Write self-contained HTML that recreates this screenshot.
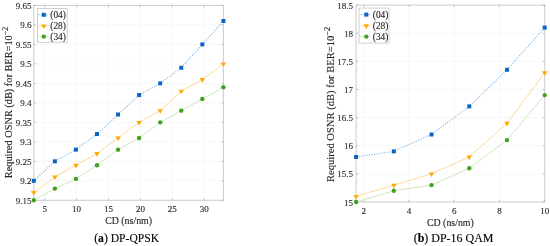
<!DOCTYPE html>
<html><head><meta charset="utf-8"><style>
html,body{margin:0;padding:0;background:#fff;width:550px;height:246px;overflow:hidden}
text{stroke:currentColor;stroke-width:0.12px;paint-order:stroke}
svg{display:block}
</style></head><body>
<svg width="550" height="246" viewBox="0 0 550 246" font-family='"Liberation Serif", "DejaVu Serif", serif' font-size="9" fill="#262626" color="#262626">
<rect width="550" height="246" fill="#fff"/>
<line x1="44.65" y1="5.4" x2="44.65" y2="200.3" stroke="#f7f7f7" stroke-width="1"/>
<line x1="76.57" y1="5.4" x2="76.57" y2="200.3" stroke="#f7f7f7" stroke-width="1"/>
<line x1="108.49" y1="5.4" x2="108.49" y2="200.3" stroke="#f7f7f7" stroke-width="1"/>
<line x1="140.41" y1="5.4" x2="140.41" y2="200.3" stroke="#f7f7f7" stroke-width="1"/>
<line x1="172.33" y1="5.4" x2="172.33" y2="200.3" stroke="#f7f7f7" stroke-width="1"/>
<line x1="204.25" y1="5.4" x2="204.25" y2="200.3" stroke="#f7f7f7" stroke-width="1"/>
<line x1="33.8" y1="180.81" x2="223.4" y2="180.81" stroke="#f7f7f7" stroke-width="1"/>
<line x1="33.8" y1="161.32" x2="223.4" y2="161.32" stroke="#f7f7f7" stroke-width="1"/>
<line x1="33.8" y1="141.83" x2="223.4" y2="141.83" stroke="#f7f7f7" stroke-width="1"/>
<line x1="33.8" y1="122.34" x2="223.4" y2="122.34" stroke="#f7f7f7" stroke-width="1"/>
<line x1="33.8" y1="102.85" x2="223.4" y2="102.85" stroke="#f7f7f7" stroke-width="1"/>
<line x1="33.8" y1="83.36" x2="223.4" y2="83.36" stroke="#f7f7f7" stroke-width="1"/>
<line x1="33.8" y1="63.87" x2="223.4" y2="63.87" stroke="#f7f7f7" stroke-width="1"/>
<line x1="33.8" y1="44.38" x2="223.4" y2="44.38" stroke="#f7f7f7" stroke-width="1"/>
<line x1="33.8" y1="24.89" x2="223.4" y2="24.89" stroke="#f7f7f7" stroke-width="1"/>
<rect x="33.8" y="5.4" width="189.60" height="194.90" fill="none" stroke="#cccccc" stroke-width="1"/>
<line x1="44.65" y1="200.3" x2="44.65" y2="198.5" stroke="#aaa" stroke-width="0.8"/>
<line x1="44.65" y1="5.4" x2="44.65" y2="7.2" stroke="#aaa" stroke-width="0.8"/>
<line x1="76.57" y1="200.3" x2="76.57" y2="198.5" stroke="#aaa" stroke-width="0.8"/>
<line x1="76.57" y1="5.4" x2="76.57" y2="7.2" stroke="#aaa" stroke-width="0.8"/>
<line x1="108.49" y1="200.3" x2="108.49" y2="198.5" stroke="#aaa" stroke-width="0.8"/>
<line x1="108.49" y1="5.4" x2="108.49" y2="7.2" stroke="#aaa" stroke-width="0.8"/>
<line x1="140.41" y1="200.3" x2="140.41" y2="198.5" stroke="#aaa" stroke-width="0.8"/>
<line x1="140.41" y1="5.4" x2="140.41" y2="7.2" stroke="#aaa" stroke-width="0.8"/>
<line x1="172.33" y1="200.3" x2="172.33" y2="198.5" stroke="#aaa" stroke-width="0.8"/>
<line x1="172.33" y1="5.4" x2="172.33" y2="7.2" stroke="#aaa" stroke-width="0.8"/>
<line x1="204.25" y1="200.3" x2="204.25" y2="198.5" stroke="#aaa" stroke-width="0.8"/>
<line x1="204.25" y1="5.4" x2="204.25" y2="7.2" stroke="#aaa" stroke-width="0.8"/>
<line x1="33.8" y1="200.30" x2="35.599999999999994" y2="200.30" stroke="#aaa" stroke-width="0.8"/>
<line x1="223.4" y1="200.30" x2="221.6" y2="200.30" stroke="#aaa" stroke-width="0.8"/>
<line x1="33.8" y1="180.81" x2="35.599999999999994" y2="180.81" stroke="#aaa" stroke-width="0.8"/>
<line x1="223.4" y1="180.81" x2="221.6" y2="180.81" stroke="#aaa" stroke-width="0.8"/>
<line x1="33.8" y1="161.32" x2="35.599999999999994" y2="161.32" stroke="#aaa" stroke-width="0.8"/>
<line x1="223.4" y1="161.32" x2="221.6" y2="161.32" stroke="#aaa" stroke-width="0.8"/>
<line x1="33.8" y1="141.83" x2="35.599999999999994" y2="141.83" stroke="#aaa" stroke-width="0.8"/>
<line x1="223.4" y1="141.83" x2="221.6" y2="141.83" stroke="#aaa" stroke-width="0.8"/>
<line x1="33.8" y1="122.34" x2="35.599999999999994" y2="122.34" stroke="#aaa" stroke-width="0.8"/>
<line x1="223.4" y1="122.34" x2="221.6" y2="122.34" stroke="#aaa" stroke-width="0.8"/>
<line x1="33.8" y1="102.85" x2="35.599999999999994" y2="102.85" stroke="#aaa" stroke-width="0.8"/>
<line x1="223.4" y1="102.85" x2="221.6" y2="102.85" stroke="#aaa" stroke-width="0.8"/>
<line x1="33.8" y1="83.36" x2="35.599999999999994" y2="83.36" stroke="#aaa" stroke-width="0.8"/>
<line x1="223.4" y1="83.36" x2="221.6" y2="83.36" stroke="#aaa" stroke-width="0.8"/>
<line x1="33.8" y1="63.87" x2="35.599999999999994" y2="63.87" stroke="#aaa" stroke-width="0.8"/>
<line x1="223.4" y1="63.87" x2="221.6" y2="63.87" stroke="#aaa" stroke-width="0.8"/>
<line x1="33.8" y1="44.38" x2="35.599999999999994" y2="44.38" stroke="#aaa" stroke-width="0.8"/>
<line x1="223.4" y1="44.38" x2="221.6" y2="44.38" stroke="#aaa" stroke-width="0.8"/>
<line x1="33.8" y1="24.89" x2="35.599999999999994" y2="24.89" stroke="#aaa" stroke-width="0.8"/>
<line x1="223.4" y1="24.89" x2="221.6" y2="24.89" stroke="#aaa" stroke-width="0.8"/>
<line x1="33.8" y1="5.40" x2="35.599999999999994" y2="5.40" stroke="#aaa" stroke-width="0.8"/>
<line x1="223.4" y1="5.40" x2="221.6" y2="5.40" stroke="#aaa" stroke-width="0.8"/>
<text x="44.65" y="211.8" text-anchor="middle">5</text>
<text x="76.57" y="211.8" text-anchor="middle">10</text>
<text x="108.49" y="211.8" text-anchor="middle">15</text>
<text x="140.41" y="211.8" text-anchor="middle">20</text>
<text x="172.33" y="211.8" text-anchor="middle">25</text>
<text x="204.25" y="211.8" text-anchor="middle">30</text>
<text x="31.60" y="203.80" text-anchor="end">9.15</text>
<text x="31.60" y="184.31" text-anchor="end">9.2</text>
<text x="31.60" y="164.82" text-anchor="end">9.25</text>
<text x="31.60" y="145.33" text-anchor="end">9.3</text>
<text x="31.60" y="125.84" text-anchor="end">9.35</text>
<text x="31.60" y="106.35" text-anchor="end">9.4</text>
<text x="31.60" y="86.86" text-anchor="end">9.45</text>
<text x="31.60" y="67.37" text-anchor="end">9.5</text>
<text x="31.60" y="47.88" text-anchor="end">9.55</text>
<text x="31.60" y="28.39" text-anchor="end">9.6</text>
<text x="31.60" y="8.90" text-anchor="end">9.65</text>
<path d="M33.80,200.30 L54.87,188.61 L75.93,178.86 L97.00,165.22 L118.07,149.63 L139.13,137.93 L160.20,122.34 L181.27,110.65 L202.33,98.95 L223.40,87.26" fill="none" stroke="#d0e7be" stroke-width="1.0"/>
<path d="M33.80,192.50 L54.87,176.91 L75.93,165.22 L97.00,153.52 L118.07,137.93 L139.13,122.34 L160.20,110.65 L181.27,91.16 L202.33,79.46 L223.40,63.87" fill="none" stroke="#ffd898" stroke-width="1.0"/>
<path d="M33.80,180.81 L54.87,161.32 L75.93,149.63 L97.00,134.03 L118.07,114.54 L139.13,95.05 L160.20,83.36 L181.27,67.77 L202.33,44.38 L223.40,20.99" fill="none" stroke="#78b5ea" stroke-width="1.15" stroke-dasharray="1.1 1.5"/>
<circle cx="33.80" cy="200.30" r="2.2" fill="#42a020"/>
<circle cx="54.87" cy="188.61" r="2.2" fill="#42a020"/>
<circle cx="75.93" cy="178.86" r="2.2" fill="#42a020"/>
<circle cx="97.00" cy="165.22" r="2.2" fill="#42a020"/>
<circle cx="118.07" cy="149.63" r="2.2" fill="#42a020"/>
<circle cx="139.13" cy="137.93" r="2.2" fill="#42a020"/>
<circle cx="160.20" cy="122.34" r="2.2" fill="#42a020"/>
<circle cx="181.27" cy="110.65" r="2.2" fill="#42a020"/>
<circle cx="202.33" cy="98.95" r="2.2" fill="#42a020"/>
<circle cx="223.40" cy="87.26" r="2.2" fill="#42a020"/>
<path d="M31.08,191.05H36.52L33.80,195.70Z" fill="#ffa800"/>
<path d="M52.15,175.46H57.59L54.87,180.11Z" fill="#ffa800"/>
<path d="M73.21,163.77H78.65L75.93,168.42Z" fill="#ffa800"/>
<path d="M94.28,152.07H99.72L97.00,156.72Z" fill="#ffa800"/>
<path d="M115.35,136.48H120.79L118.07,141.13Z" fill="#ffa800"/>
<path d="M136.41,120.89H141.85L139.13,125.54Z" fill="#ffa800"/>
<path d="M157.48,109.20H162.92L160.20,113.85Z" fill="#ffa800"/>
<path d="M178.55,89.71H183.99L181.27,94.36Z" fill="#ffa800"/>
<path d="M199.61,78.01H205.05L202.33,82.66Z" fill="#ffa800"/>
<path d="M220.68,62.42H226.12L223.40,67.07Z" fill="#ffa800"/>
<rect x="31.80" y="178.81" width="4" height="4" fill="#0a66c2"/>
<rect x="52.87" y="159.32" width="4" height="4" fill="#0a66c2"/>
<rect x="73.93" y="147.63" width="4" height="4" fill="#0a66c2"/>
<rect x="95.00" y="132.03" width="4" height="4" fill="#0a66c2"/>
<rect x="116.07" y="112.54" width="4" height="4" fill="#0a66c2"/>
<rect x="137.13" y="93.05" width="4" height="4" fill="#0a66c2"/>
<rect x="158.20" y="81.36" width="4" height="4" fill="#0a66c2"/>
<rect x="179.27" y="65.77" width="4" height="4" fill="#0a66c2"/>
<rect x="200.33" y="42.38" width="4" height="4" fill="#0a66c2"/>
<rect x="221.40" y="18.99" width="4" height="4" fill="#0a66c2"/>
<rect x="37.5" y="8.5" width="29.70" height="33.80" fill="#fff" stroke="#cccccc" stroke-width="0.9"/>
<path d="M38.50,14.80 L48.70,14.80" fill="none" stroke="#78b5ea" stroke-width="1.15" stroke-dasharray="1.1 1.5"/>
<rect x="41.80" y="12.80" width="4" height="4" fill="#0a66c2"/>
<text x="50.3" y="18.00" font-size="9.4">(04)</text>
<path d="M38.50,25.90 L48.70,25.90" fill="none" stroke="#ffd898" stroke-width="1.0"/>
<path d="M41.08,24.45H46.52L43.80,29.10Z" fill="#ffa800"/>
<text x="50.3" y="29.10" font-size="9.4">(28)</text>
<path d="M38.50,36.60 L48.70,36.60" fill="none" stroke="#d0e7be" stroke-width="1.0"/>
<circle cx="43.80" cy="36.60" r="2.2" fill="#42a020"/>
<text x="50.3" y="39.80" font-size="9.4">(34)</text>
<text x="128.60" y="224.0" text-anchor="middle" font-size="9.9">CD (ns/nm)</text>
<text transform="translate(11.5,178.2) rotate(-90)" font-size="10" textLength="151.5" lengthAdjust="spacingAndGlyphs">Required OSNR (dB) for BER=10<tspan font-size="7.8" dy="-3.9">−2</tspan></text>
<text x="94.2" y="241.5" font-size="11.8" fill="#000" textLength="65" lengthAdjust="spacingAndGlyphs">(<tspan font-weight="bold">a</tspan>) DP-QPSK</text>
<line x1="363.64" y1="5.1" x2="363.64" y2="202.0" stroke="#f7f7f7" stroke-width="1"/>
<line x1="408.91" y1="5.1" x2="408.91" y2="202.0" stroke="#f7f7f7" stroke-width="1"/>
<line x1="454.17" y1="5.1" x2="454.17" y2="202.0" stroke="#f7f7f7" stroke-width="1"/>
<line x1="499.44" y1="5.1" x2="499.44" y2="202.0" stroke="#f7f7f7" stroke-width="1"/>
<line x1="356.1" y1="173.87" x2="544.7" y2="173.87" stroke="#f7f7f7" stroke-width="1"/>
<line x1="356.1" y1="145.74" x2="544.7" y2="145.74" stroke="#f7f7f7" stroke-width="1"/>
<line x1="356.1" y1="117.61" x2="544.7" y2="117.61" stroke="#f7f7f7" stroke-width="1"/>
<line x1="356.1" y1="89.49" x2="544.7" y2="89.49" stroke="#f7f7f7" stroke-width="1"/>
<line x1="356.1" y1="61.36" x2="544.7" y2="61.36" stroke="#f7f7f7" stroke-width="1"/>
<line x1="356.1" y1="33.23" x2="544.7" y2="33.23" stroke="#f7f7f7" stroke-width="1"/>
<rect x="356.1" y="5.1" width="188.60" height="196.90" fill="none" stroke="#cccccc" stroke-width="1"/>
<line x1="363.64" y1="202.0" x2="363.64" y2="200.2" stroke="#aaa" stroke-width="0.8"/>
<line x1="363.64" y1="5.1" x2="363.64" y2="6.8999999999999995" stroke="#aaa" stroke-width="0.8"/>
<line x1="408.91" y1="202.0" x2="408.91" y2="200.2" stroke="#aaa" stroke-width="0.8"/>
<line x1="408.91" y1="5.1" x2="408.91" y2="6.8999999999999995" stroke="#aaa" stroke-width="0.8"/>
<line x1="454.17" y1="202.0" x2="454.17" y2="200.2" stroke="#aaa" stroke-width="0.8"/>
<line x1="454.17" y1="5.1" x2="454.17" y2="6.8999999999999995" stroke="#aaa" stroke-width="0.8"/>
<line x1="499.44" y1="202.0" x2="499.44" y2="200.2" stroke="#aaa" stroke-width="0.8"/>
<line x1="499.44" y1="5.1" x2="499.44" y2="6.8999999999999995" stroke="#aaa" stroke-width="0.8"/>
<line x1="544.70" y1="202.0" x2="544.70" y2="200.2" stroke="#aaa" stroke-width="0.8"/>
<line x1="544.70" y1="5.1" x2="544.70" y2="6.8999999999999995" stroke="#aaa" stroke-width="0.8"/>
<line x1="356.1" y1="202.00" x2="357.90000000000003" y2="202.00" stroke="#aaa" stroke-width="0.8"/>
<line x1="544.7" y1="202.00" x2="542.9000000000001" y2="202.00" stroke="#aaa" stroke-width="0.8"/>
<line x1="356.1" y1="173.87" x2="357.90000000000003" y2="173.87" stroke="#aaa" stroke-width="0.8"/>
<line x1="544.7" y1="173.87" x2="542.9000000000001" y2="173.87" stroke="#aaa" stroke-width="0.8"/>
<line x1="356.1" y1="145.74" x2="357.90000000000003" y2="145.74" stroke="#aaa" stroke-width="0.8"/>
<line x1="544.7" y1="145.74" x2="542.9000000000001" y2="145.74" stroke="#aaa" stroke-width="0.8"/>
<line x1="356.1" y1="117.61" x2="357.90000000000003" y2="117.61" stroke="#aaa" stroke-width="0.8"/>
<line x1="544.7" y1="117.61" x2="542.9000000000001" y2="117.61" stroke="#aaa" stroke-width="0.8"/>
<line x1="356.1" y1="89.49" x2="357.90000000000003" y2="89.49" stroke="#aaa" stroke-width="0.8"/>
<line x1="544.7" y1="89.49" x2="542.9000000000001" y2="89.49" stroke="#aaa" stroke-width="0.8"/>
<line x1="356.1" y1="61.36" x2="357.90000000000003" y2="61.36" stroke="#aaa" stroke-width="0.8"/>
<line x1="544.7" y1="61.36" x2="542.9000000000001" y2="61.36" stroke="#aaa" stroke-width="0.8"/>
<line x1="356.1" y1="33.23" x2="357.90000000000003" y2="33.23" stroke="#aaa" stroke-width="0.8"/>
<line x1="544.7" y1="33.23" x2="542.9000000000001" y2="33.23" stroke="#aaa" stroke-width="0.8"/>
<line x1="356.1" y1="5.10" x2="357.90000000000003" y2="5.10" stroke="#aaa" stroke-width="0.8"/>
<line x1="544.7" y1="5.10" x2="542.9000000000001" y2="5.10" stroke="#aaa" stroke-width="0.8"/>
<text x="363.64" y="213.7" text-anchor="middle">2</text>
<text x="408.91" y="213.7" text-anchor="middle">4</text>
<text x="454.17" y="213.7" text-anchor="middle">6</text>
<text x="499.44" y="213.7" text-anchor="middle">8</text>
<text x="544.70" y="213.7" text-anchor="middle">10</text>
<text x="353.10" y="205.50" text-anchor="end">15</text>
<text x="353.10" y="177.37" text-anchor="end">15.5</text>
<text x="353.10" y="149.24" text-anchor="end">16</text>
<text x="353.10" y="121.11" text-anchor="end">16.5</text>
<text x="353.10" y="92.99" text-anchor="end">17</text>
<text x="353.10" y="64.86" text-anchor="end">17.5</text>
<text x="353.10" y="36.73" text-anchor="end">18</text>
<text x="353.10" y="8.60" text-anchor="end">18.5</text>
<path d="M356.10,202.00 L393.82,190.75 L431.54,185.12 L469.26,168.25 L506.98,140.12 L544.70,95.11" fill="none" stroke="#d0e7be" stroke-width="1.0"/>
<path d="M356.10,196.37 L393.82,185.12 L431.54,173.87 L469.26,156.99 L506.98,123.24 L544.70,72.61" fill="none" stroke="#ffd898" stroke-width="1.0"/>
<path d="M356.10,156.99 L393.82,151.37 L431.54,134.49 L469.26,106.36 L506.98,69.80 L544.70,27.60" fill="none" stroke="#78b5ea" stroke-width="1.15" stroke-dasharray="1.1 1.5"/>
<circle cx="356.10" cy="202.00" r="2.2" fill="#42a020"/>
<circle cx="393.82" cy="190.75" r="2.2" fill="#42a020"/>
<circle cx="431.54" cy="185.12" r="2.2" fill="#42a020"/>
<circle cx="469.26" cy="168.25" r="2.2" fill="#42a020"/>
<circle cx="506.98" cy="140.12" r="2.2" fill="#42a020"/>
<circle cx="544.70" cy="95.11" r="2.2" fill="#42a020"/>
<path d="M353.38,194.92H358.82L356.10,199.57Z" fill="#ffa800"/>
<path d="M391.10,183.67H396.54L393.82,188.32Z" fill="#ffa800"/>
<path d="M428.82,172.42H434.26L431.54,177.07Z" fill="#ffa800"/>
<path d="M466.54,155.54H471.98L469.26,160.19Z" fill="#ffa800"/>
<path d="M504.26,121.79H509.70L506.98,126.44Z" fill="#ffa800"/>
<path d="M541.98,71.16H547.42L544.70,75.81Z" fill="#ffa800"/>
<rect x="354.10" y="154.99" width="4" height="4" fill="#0a66c2"/>
<rect x="391.82" y="149.37" width="4" height="4" fill="#0a66c2"/>
<rect x="429.54" y="132.49" width="4" height="4" fill="#0a66c2"/>
<rect x="467.26" y="104.36" width="4" height="4" fill="#0a66c2"/>
<rect x="504.98" y="67.80" width="4" height="4" fill="#0a66c2"/>
<rect x="542.70" y="25.60" width="4" height="4" fill="#0a66c2"/>
<rect x="359.1" y="8.1" width="29.90" height="35.00" fill="#fff" stroke="#cccccc" stroke-width="0.9"/>
<path d="M360.60,14.60 L370.70,14.60" fill="none" stroke="#78b5ea" stroke-width="1.15" stroke-dasharray="1.1 1.5"/>
<rect x="364.30" y="12.60" width="4" height="4" fill="#0a66c2"/>
<text x="372.8" y="17.80" font-size="9.4">(04)</text>
<path d="M360.60,25.80 L370.70,25.80" fill="none" stroke="#ffd898" stroke-width="1.0"/>
<path d="M363.58,24.35H369.02L366.30,29.00Z" fill="#ffa800"/>
<text x="372.8" y="29.00" font-size="9.4">(28)</text>
<path d="M360.60,36.60 L370.70,36.60" fill="none" stroke="#d0e7be" stroke-width="1.0"/>
<circle cx="366.30" cy="36.60" r="2.2" fill="#42a020"/>
<text x="372.8" y="39.80" font-size="9.4">(34)</text>
<text x="450.40" y="225.9" text-anchor="middle" font-size="9.9">CD (ns/nm)</text>
<text transform="translate(333.5,182.0) rotate(-90)" font-size="10" textLength="155" lengthAdjust="spacingAndGlyphs">Required OSNR (dB) for BER=10<tspan font-size="7.8" dy="-3.9">−2</tspan></text>
<text x="413.7" y="241.5" font-size="11.8" fill="#000" textLength="79.8" lengthAdjust="spacingAndGlyphs">(<tspan font-weight="bold">b</tspan>) DP-16 QAM</text>
</svg>
</body></html>
